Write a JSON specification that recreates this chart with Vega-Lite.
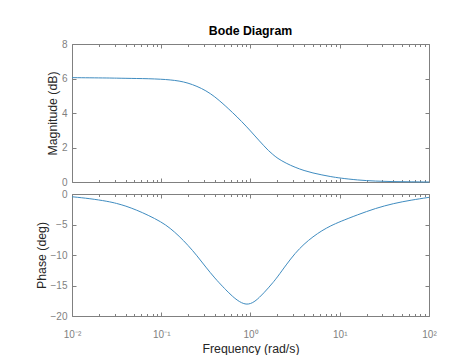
{
  "$schema": "https://vega.github.io/schema/vega-lite/v6.json",
  "background": "white",
  "padding": {"left": 34, "top": 24, "right": 5, "bottom": 0},
  "datasets": {
    "bode": [
      {"w": 0.01, "mag": 6.05, "phase": -0.45},
      {"w": 0.01585, "mag": 6.04, "phase": -0.75},
      {"w": 0.02512, "mag": 6.03, "phase": -1.2},
      {"w": 0.03162, "mag": 6.02, "phase": -1.54},
      {"w": 0.03981, "mag": 6.01, "phase": -1.95},
      {"w": 0.05309, "mag": 6.0, "phase": -2.64},
      {"w": 0.07079, "mag": 5.99, "phase": -3.45},
      {"w": 0.1, "mag": 5.96, "phase": -4.57},
      {"w": 0.1259, "mag": 5.92, "phase": -5.6},
      {"w": 0.1585, "mag": 5.86, "phase": -6.9},
      {"w": 0.1995, "mag": 5.74, "phase": -8.4},
      {"w": 0.2512, "mag": 5.55, "phase": -10.1},
      {"w": 0.3162, "mag": 5.3, "phase": -12.0},
      {"w": 0.3981, "mag": 4.95, "phase": -13.8},
      {"w": 0.5012, "mag": 4.5, "phase": -15.35},
      {"w": 0.5623, "mag": 4.26, "phase": -16.1},
      {"w": 0.631, "mag": 4.02, "phase": -16.8},
      {"w": 0.7079, "mag": 3.77, "phase": -17.4},
      {"w": 0.7943, "mag": 3.51, "phase": -17.85},
      {"w": 0.8913, "mag": 3.24, "phase": -18.1},
      {"w": 1.0, "mag": 2.96, "phase": -18.0},
      {"w": 1.122, "mag": 2.67, "phase": -17.6},
      {"w": 1.259, "mag": 2.38, "phase": -16.95},
      {"w": 1.413, "mag": 2.1, "phase": -16.2},
      {"w": 1.585, "mag": 1.82, "phase": -15.4},
      {"w": 1.778, "mag": 1.6, "phase": -14.55},
      {"w": 1.995, "mag": 1.38, "phase": -13.65},
      {"w": 2.512, "mag": 1.08, "phase": -11.6},
      {"w": 3.162, "mag": 0.85, "phase": -9.7},
      {"w": 3.981, "mag": 0.66, "phase": -8.2},
      {"w": 5.012, "mag": 0.52, "phase": -7.0},
      {"w": 6.31, "mag": 0.41, "phase": -6.0},
      {"w": 7.943, "mag": 0.31, "phase": -5.2},
      {"w": 10, "mag": 0.23, "phase": -4.55},
      {"w": 15.85, "mag": 0.11, "phase": -3.4},
      {"w": 25.12, "mag": 0.05, "phase": -2.35},
      {"w": 39.81, "mag": 0.02, "phase": -1.55},
      {"w": 63.1, "mag": 0.01, "phase": -1.0},
      {"w": 100, "mag": 0.0, "phase": -0.55}
    ]
  },
  "spacing": 0,
  "vconcat": [
    {
      "width": 357,
      "height": 138,
      "title": {"text": "Bode Diagram", "offset": 1.5},
      "data": {"name": "bode"},
      "resolve": {"axis": {"x": "independent", "y": "independent"}},
      "layer": [
        {
          "mark": {"type": "line", "color": "#3f8cc0", "strokeWidth": 1, "interpolate": "basis"},
          "encoding": {
            "x": {"field": "w", "type": "quantitative",
              "scale": {"type": "log", "domain": [0.01, 100], "nice": false},
              "axis": {"orient": "bottom", "labels": false, "title": null, "minExtent": 0, "maxExtent": 0,
                "values": [0.01,0.02,0.03,0.04,0.05,0.06,0.07,0.08,0.09,0.1,0.2,0.3,0.4,0.5,0.6,0.7,0.8,0.9,1,2,3,4,5,6,7,8,9,10,20,30,40,50,60,70,80,90,100],
                "tickSize": {"condition": {"test": "indexof([0.01,0.1,1,10,100], datum.value) >= 0", "value": -4}, "value": -2.5}}},
            "y": {"field": "mag", "type": "quantitative",
              "scale": {"domain": [0, 8], "nice": false, "zero": false},
              "axis": {"orient": "left", "title": "Magnitude (dB)", "values": [0, 2, 4, 6, 8], "tickSize": -4, "labelPadding": 9}}
          }
        },
        {
          "mark": {"type": "line", "strokeOpacity": 0},
          "encoding": {
            "x": {"field": "w", "type": "quantitative",
              "scale": {"type": "log", "domain": [0.01, 100], "nice": false},
              "axis": {"orient": "top", "labels": false, "title": null, "minExtent": 0, "maxExtent": 0,
                "values": [0.01,0.02,0.03,0.04,0.05,0.06,0.07,0.08,0.09,0.1,0.2,0.3,0.4,0.5,0.6,0.7,0.8,0.9,1,2,3,4,5,6,7,8,9,10,20,30,40,50,60,70,80,90,100],
                "tickSize": {"condition": {"test": "indexof([0.01,0.1,1,10,100], datum.value) >= 0", "value": -4}, "value": -2.5}}},
            "y": {"field": "mag", "type": "quantitative",
              "scale": {"domain": [0, 8], "nice": false, "zero": false},
              "axis": {"orient": "right", "labels": false, "title": null, "minExtent": 0, "maxExtent": 0, "values": [0, 2, 4, 6, 8], "tickSize": -4}}
          }
        }
      ]
    },
    {
      "width": 357,
      "height": 122,
      "data": {"name": "bode"},
      "resolve": {"axis": {"x": "independent", "y": "independent"}},
      "layer": [
        {
          "mark": {"type": "line", "color": "#3f8cc0", "strokeWidth": 1, "interpolate": "basis"},
          "encoding": {
            "x": {"field": "w", "type": "quantitative",
              "scale": {"type": "log", "domain": [0.01, 100], "nice": false},
              "axis": {"orient": "bottom", "title": "Frequency  (rad/s)", "labelFlush": false, "labelBound": false,
                "values": [0.01,0.02,0.03,0.04,0.05,0.06,0.07,0.08,0.09,0.1,0.2,0.3,0.4,0.5,0.6,0.7,0.8,0.9,1,2,3,4,5,6,7,8,9,10,20,30,40,50,60,70,80,90,100],
                "labelExpr": "datum.value == 0.01 ? '10⁻²' : datum.value == 0.1 ? '10⁻¹' : datum.value == 1 ? '10⁰' : datum.value == 10 ? '10¹' : datum.value == 100 ? '10²' : ''",
                "labelPadding": 17,
                "tickSize": {"condition": {"test": "indexof([0.01,0.1,1,10,100], datum.value) >= 0", "value": -4}, "value": -2.5}}},
            "y": {"field": "phase", "type": "quantitative",
              "scale": {"domain": [-20, 0], "nice": false, "zero": false},
              "axis": {"orient": "left", "title": "Phase (deg)", "values": [0, -5, -10, -15, -20], "tickSize": -4, "labelPadding": 9}}
          }
        },
        {
          "mark": {"type": "line", "strokeOpacity": 0},
          "encoding": {
            "x": {"field": "w", "type": "quantitative",
              "scale": {"type": "log", "domain": [0.01, 100], "nice": false},
              "axis": {"orient": "top", "labels": false, "title": null, "minExtent": 0, "maxExtent": 0,
                "values": [0.01,0.02,0.03,0.04,0.05,0.06,0.07,0.08,0.09,0.1,0.2,0.3,0.4,0.5,0.6,0.7,0.8,0.9,1,2,3,4,5,6,7,8,9,10,20,30,40,50,60,70,80,90,100],
                "tickSize": {"condition": {"test": "indexof([0.01,0.1,1,10,100], datum.value) >= 0", "value": -4}, "value": -2.5}}},
            "y": {"field": "phase", "type": "quantitative",
              "scale": {"domain": [-20, 0], "nice": false, "zero": false},
              "axis": {"orient": "right", "labels": false, "title": null, "minExtent": 0, "maxExtent": 0, "values": [0, -5, -10, -15, -20], "tickSize": -4}}
          }
        }
      ]
    }
  ],
  "config": {
    "view": {"stroke": "#808080", "strokeWidth": 1},
    "axis": {
      "domain": false, "grid": false,
      "labelFont": "Liberation Sans", "labelFontSize": 10, "labelColor": "#7f7f7f",
      "labelOverlap": false,
      "tickColor": "#808080", "tickWidth": 1,
      "titleFont": "Liberation Sans", "titleFontSize": 12.3, "titleFontWeight": "normal", "titleColor": "#262626",
      "titlePadding": 2
    },
    "title": {"font": "Liberation Sans", "fontSize": 12.3, "fontWeight": "bold", "color": "#000000", "anchor": "middle", "frame": "group"}
  }
}
